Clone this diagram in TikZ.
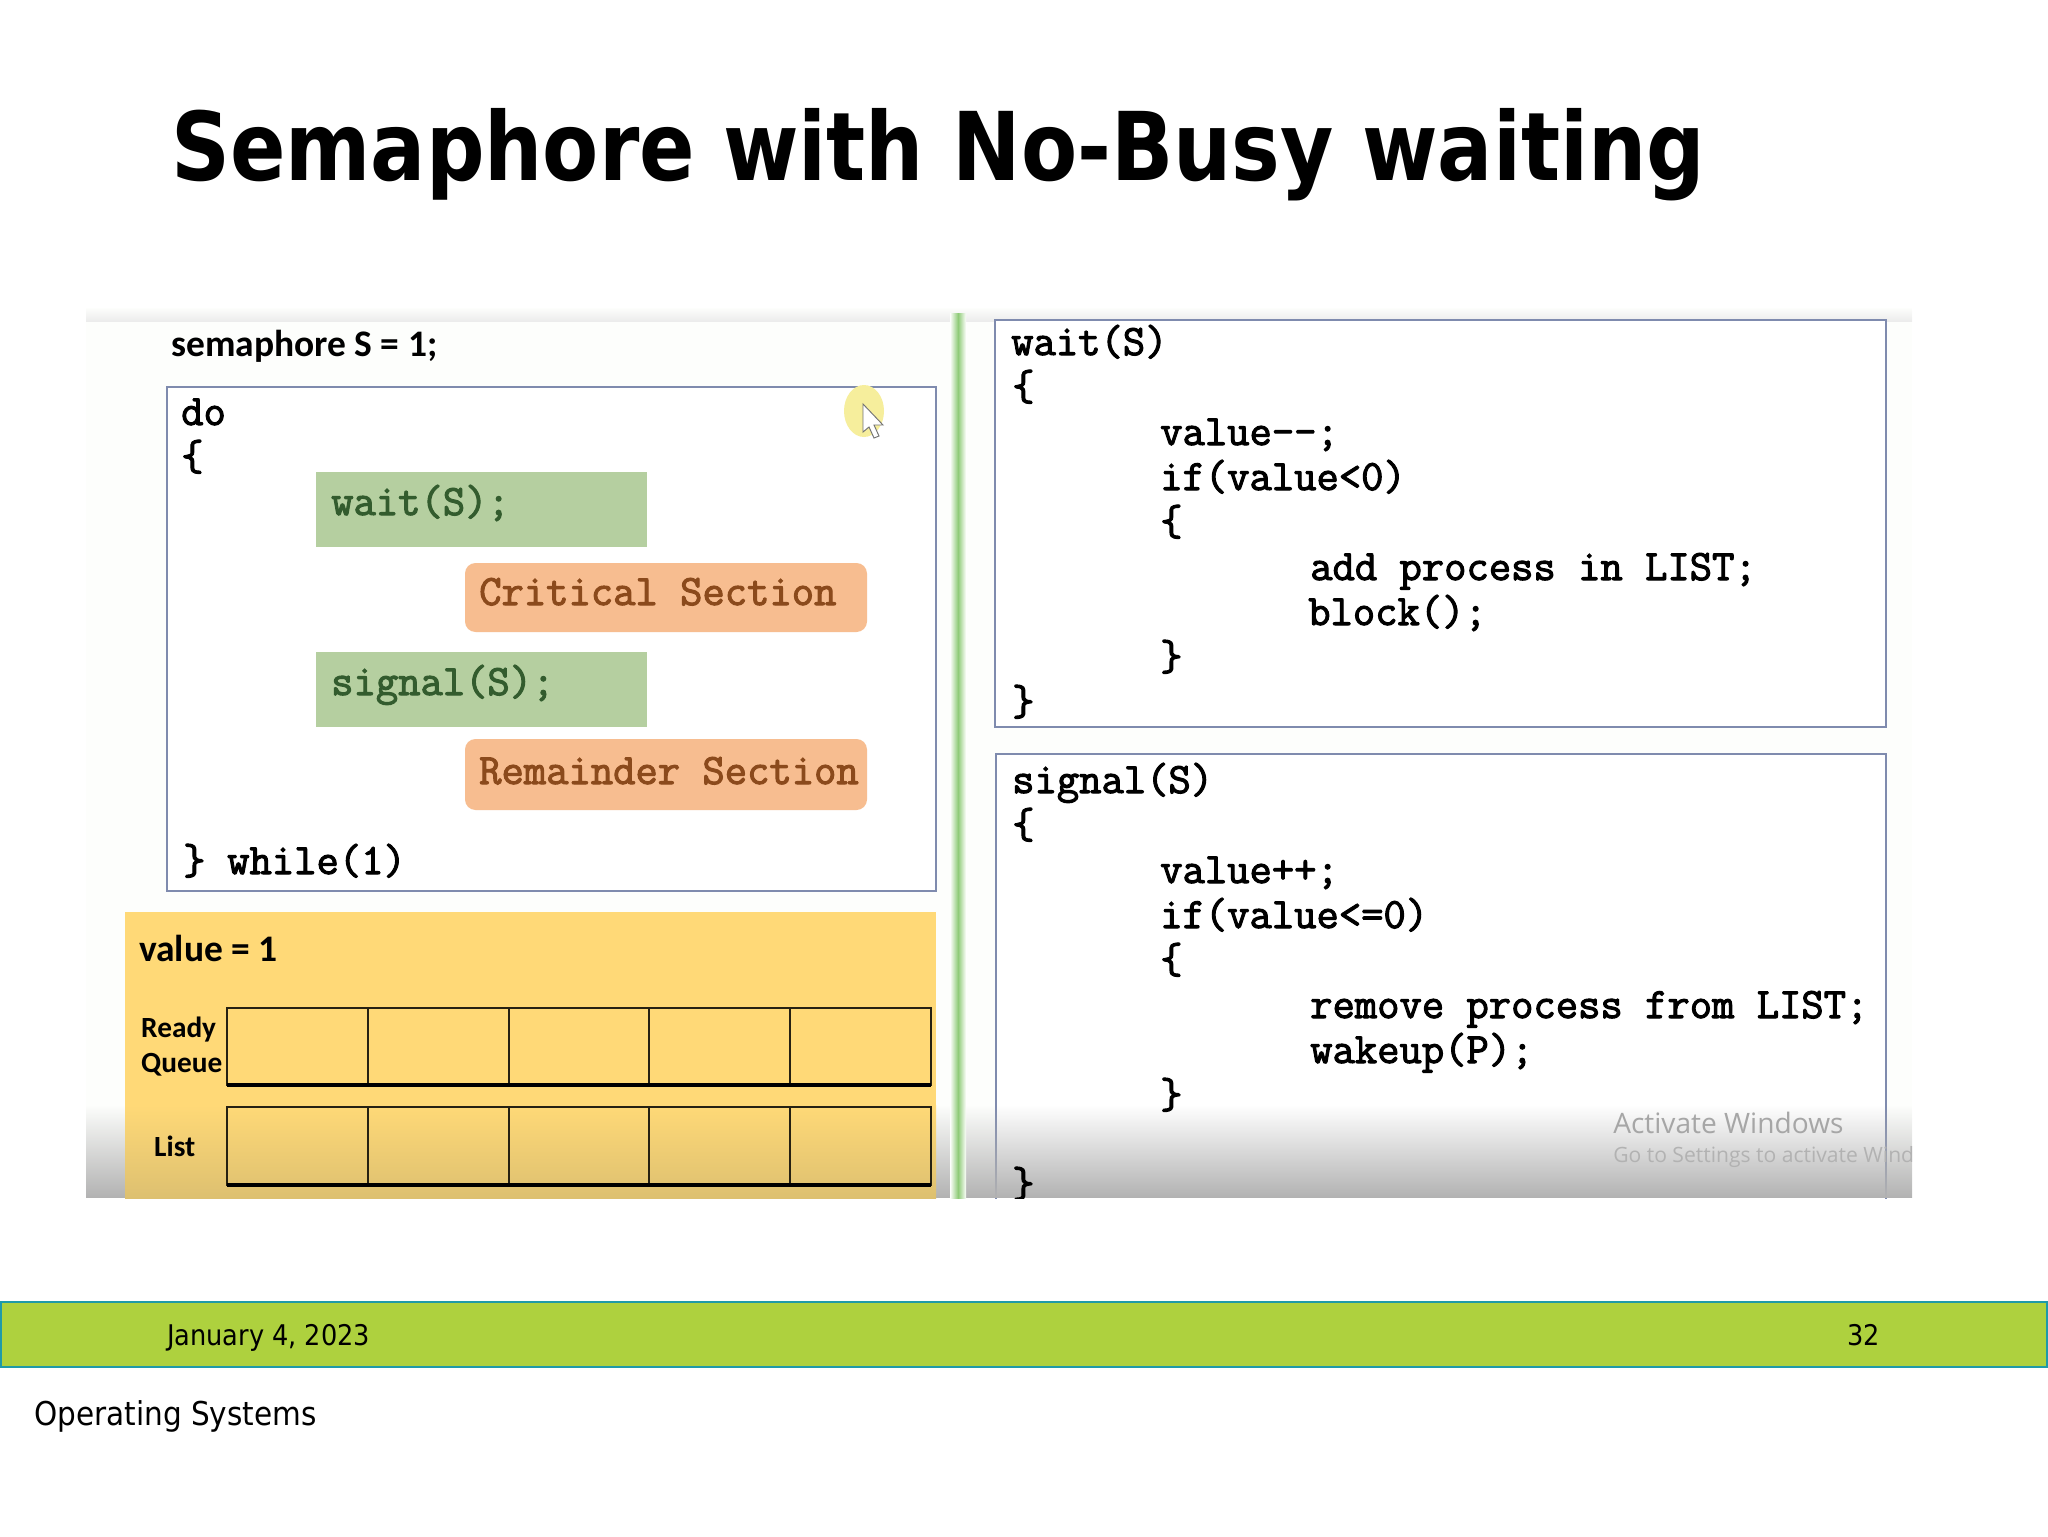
\documentclass[tikz,border=0pt]{standalone}
\usepackage{fontspec}
\usetikzlibrary{fadings}
\newfontfamily\titlefont[FakeStretch=.958]{DejaVu Sans Condensed}
\newfontfamily\slidefont{DejaVu Sans Condensed}
\newfontfamily\calfont{Carlito}
\newfontfamily\winfont{Open Sans}
\newfontfamily\monofont[FakeBold=2.4]{Latin Modern Mono}
\definecolor{boxblue}{HTML}{7F8BAE}
\definecolor{greenbox}{HTML}{B5CFA0}
\definecolor{greentext}{HTML}{335C2E}
\definecolor{orangebox}{HTML}{F7BD90}
\definecolor{orangetext}{HTML}{8B4A1C}
\definecolor{yellowbox}{HTML}{FFD977}
\definecolor{yellowdark}{HTML}{DDC070}
\definecolor{barcolor}{HTML}{AED13E}
\definecolor{barline}{HTML}{1F9AA8}
\definecolor{divider}{HTML}{8FCB78}
\definecolor{shotback}{HTML}{FDFEFC}
\definecolor{pointer}{HTML}{F6EE9C}
\newcommand{\codefont}{\monofont\fontsize{37}{40}\selectfont}
\tikzset{
  code/.style={anchor=base west, inner sep=0pt, font=\codefont},
  panel/.style={draw=boxblue, line width=2pt},
  cal/.style={anchor=base west, inner sep=0pt, font=\calfont\bfseries\fontsize{32}{36}\selectfont},
  small cal/.style={anchor=base west, inner sep=0pt, font=\calfont\bfseries\fontsize{25}{28}\selectfont},
  greenrect/.style={fill=greenbox},
  orangerect/.style={fill=orangebox, rounded corners=9pt},
  cell/.style={draw=black!85!yellowbox, line width=1.8pt}
}
\begin{document}
\begin{tikzpicture}[x=.03cm, y=-.03cm]
    \useasboundingbox (0,0) rectangle (2048,1536);
    \node[anchor=base west, inner sep=0pt, font=\titlefont\bfseries\fontsize{81}{90}\selectfont] (title) at (171,180) {Semaphore with No-Busy waiting};
    \begin{scope}
    \clip (86,308) rectangle (1912,1198);
    \fill[shotback] (86,308) rectangle (1912,1198);
    \fill[black!8, path fading=north] (86,308) rectangle (1925,322);
    % panels first, the shade lies over them
    \filldraw[panel, fill=white] (167,387) rectangle (936,891);
    \filldraw[panel, fill=white] (995,320) rectangle (1886,727);
    \filldraw[panel, fill=white] (996,1220)--(996,754)--(1886,754)--(1886,1220)--cycle;
    \fill[black!30, path fading=north] (86,1105) rectangle (1925,1198);
    \shade[left color=shotback, right color=divider] (950,313) rectangle (958,1198);
    \shade[left color=divider, right color=shotback] (958,313) rectangle (966,1198);
    % left side
    \node[cal] (sem) at (171,356) {semaphore S = 1;};
    \node[code] (do) at (181,425) {do};
    \node[code] (open) at (181,470) {\{};
    \fill[greenrect] (316,472) rectangle (647,547);
    \node[code, text=greentext] (wait) at (331,515) {wait(S);};
    \fill[orangerect] (465,563) rectangle (867,632);
    \node[code, text=orangetext] (crit) at (479,605) {Critical Section};
    \fill[greenrect] (316,652) rectangle (647,727);
    \node[code, text=greentext] (signal) at (331,695) {signal(S);};
    \fill[orangerect] (465,739) rectangle (867,810);
    \node[code, text=orangetext] (rem) at (479,784) {Remainder Section};
    \node[code] (close) at (183,874) {\}};
    \node[code] (while) at (227,874) {while(1)};
    % pointer
    \fill[pointer] (864,411) ellipse (20 and 26);
    \filldraw[draw=black!55, fill=white, line width=.8pt] (863,404)--(863,432)--(869,427)--(874,438)--(879,436)--(874,425)--(883,425)--cycle;
    % value block
    \fill[yellowbox] (125,912) rectangle (936,1198);
    \shade[top color=yellowbox, bottom color=yellowdark] (125,1105) rectangle (936,1198);
    \node[cal] (value) at (139,961) {value = 1};
    \node[small cal] (ready) at (141,1037) {Ready};
    \node[small cal] (queue) at (141,1072) {Queue};
    \node[small cal] (list) at (154,1156) {List};
    \foreach \xa/\xb in {227/368,368/509,509/649,649/790,790/931}{
      \draw[cell] (\xa,1008) rectangle (\xb,1085);
      \draw[cell] (\xa,1107) rectangle (\xb,1185);
    }
    \draw[black, line width=3.6pt] (227,1085)--(931,1085);
    \draw[black, line width=3.6pt] (227,1185)--(931,1185);
    % wait panel
    \node[code] (w1) at (1011,355) {wait(S)};
    \node[code] (w2) at (1012,400) {\{};
    \node[code] (w3) at (1160,445) {value{-}{-};};
    \node[code] (w4) at (1160,490) {if(value<0)};
    \node[code] (w5) at (1160,535) {\{};
    \node[code] (w6) at (1310,580) {add process in LIST;};
    \node[code] (w7) at (1308,625) {block();};
    \node[code] (w8) at (1160,670) {\}};
    \node[code] (w9) at (1012,715) {\}};
    % signal panel
    \node[code] (s1) at (1012,793) {signal(S)};
    \node[code] (s2) at (1012,838) {\{};
    \node[code] (s3) at (1160,883) {value++;};
    \node[code] (s4) at (1160,928) {if(value<=0)};
    \node[code] (s5) at (1160,973) {\{};
    \node[code] (s6) at (1310,1018) {remove process from LIST;};
    \node[code] (s7) at (1310,1063) {wakeup(P);};
    \node[code] (s8) at (1160,1108) {\}};
    \node[code] (s9) at (1012,1197) {\}};
    \node[anchor=base west, inner sep=0pt, text=black!35, font=\winfont\fontsize{24}{28}\selectfont] (act) at (1613,1133) {Activate Windows};
    \node[anchor=base west, inner sep=0pt, text=black!30, font=\winfont\fontsize{18}{22}\selectfont] (go) at (1613,1162) {Go to Settings to activate Wind};
    \end{scope}
    % footer
    \filldraw[fill=barcolor, draw=barline, line width=1.5pt] (1,1302) rectangle (2047,1367);
    \node[anchor=base west, inner sep=0pt, font=\slidefont\fontsize{24.3}{30}\selectfont] (date) at (167,1345) {January 4, 2023};
    \node[anchor=base west, inner sep=0pt, font=\slidefont\fontsize{24.3}{30}\selectfont] (page) at (1847,1345) {32};
    \node[anchor=base west, inner sep=0pt, font=\slidefont\fontsize{28}{32}\selectfont] (os) at (34,1425) {Operating Systems};
\end{tikzpicture}
\end{document}
